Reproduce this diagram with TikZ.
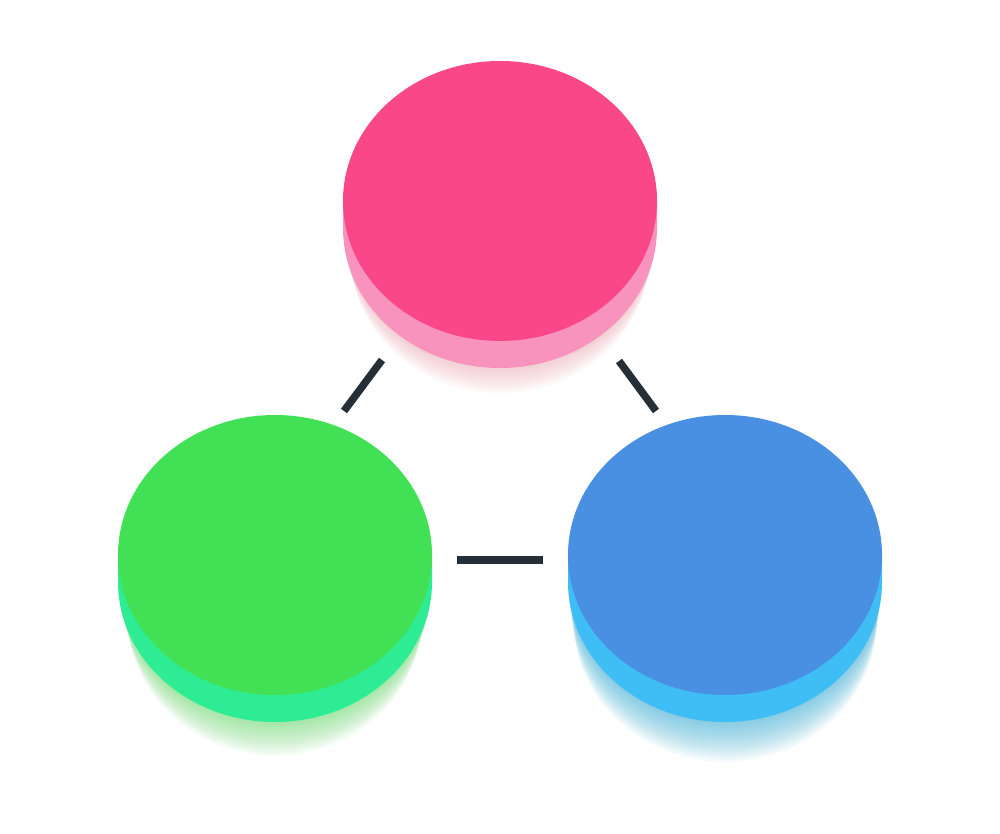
\documentclass[tikz,border=0pt]{standalone}
\usetikzlibrary{shapes.geometric}
\definecolor{pinktop}{HTML}{FA4788}
\definecolor{pinkside}{HTML}{F793BC}
\definecolor{pinkshadow}{HTML}{E08898}
\definecolor{greentop}{HTML}{42E055}
\definecolor{greenside}{HTML}{2EEC93}
\definecolor{greenshadow}{HTML}{5CD860}
\definecolor{bluetop}{HTML}{4A90E2}
\definecolor{blueside}{HTML}{3FBDF5}
\definecolor{blueshadow}{HTML}{3AB0D8}
\definecolor{linkcol}{HTML}{252F37}
\begin{document}
\begin{tikzpicture}[x=1pt,y=1pt,
  face/.style={ellipse, draw=none, inner sep=0pt, minimum width=314pt, minimum height=280pt},
  link/.style={draw=linkcol, line width=7.5pt}]
\useasboundingbox (0,0) rectangle (1000,833);
\fill[white] (0,0) rectangle (1000,833);
% shadows
\foreach \d in {2,4,...,26}
  \fill[pinkshadow, opacity=0.03] (500,632-27-\d) ellipse [x radius=157-0.3*\d, y radius=140];
\foreach \d in {2,4,...,34}
  \fill[greenshadow, opacity=0.04] (275,278-27-\d) ellipse [x radius=157-0.3*\d, y radius=140];
\foreach \d in {2,4,...,40}
  \fill[blueshadow, opacity=0.04] (725,278-27-\d) ellipse [x radius=157-0.15*\d, y radius=140];
% sides
\fill[pinkside] (343,632) -- (343,605) arc[start angle=180, end angle=360, x radius=157, y radius=140] -- (657,632) -- cycle;
\fill[greenside] (118,278) -- (118,251) arc[start angle=180, end angle=360, x radius=157, y radius=140] -- (432,278) -- cycle;
\fill[blueside] (568,278) -- (568,251) arc[start angle=180, end angle=360, x radius=157, y radius=140] -- (882,278) -- cycle;
% faces
\node[face, fill=pinktop] (top) at (500,632) {};
\node[face, fill=greentop] (left) at (275,278) {};
\node[face, fill=bluetop] (right) at (725,278) {};
% connectors
\coordinate (tl1) at (382,473);
\coordinate (tl2) at (344,422);
\coordinate (tr1) at (619,472);
\coordinate (tr2) at (656,422);
\coordinate (lr1) at (457,273);
\coordinate (lr2) at (543,273);
\draw[link] (tl1) -- (tl2);
\draw[link] (tr1) -- (tr2);
\draw[link] (lr1) -- (lr2);
\end{tikzpicture}
\end{document}
